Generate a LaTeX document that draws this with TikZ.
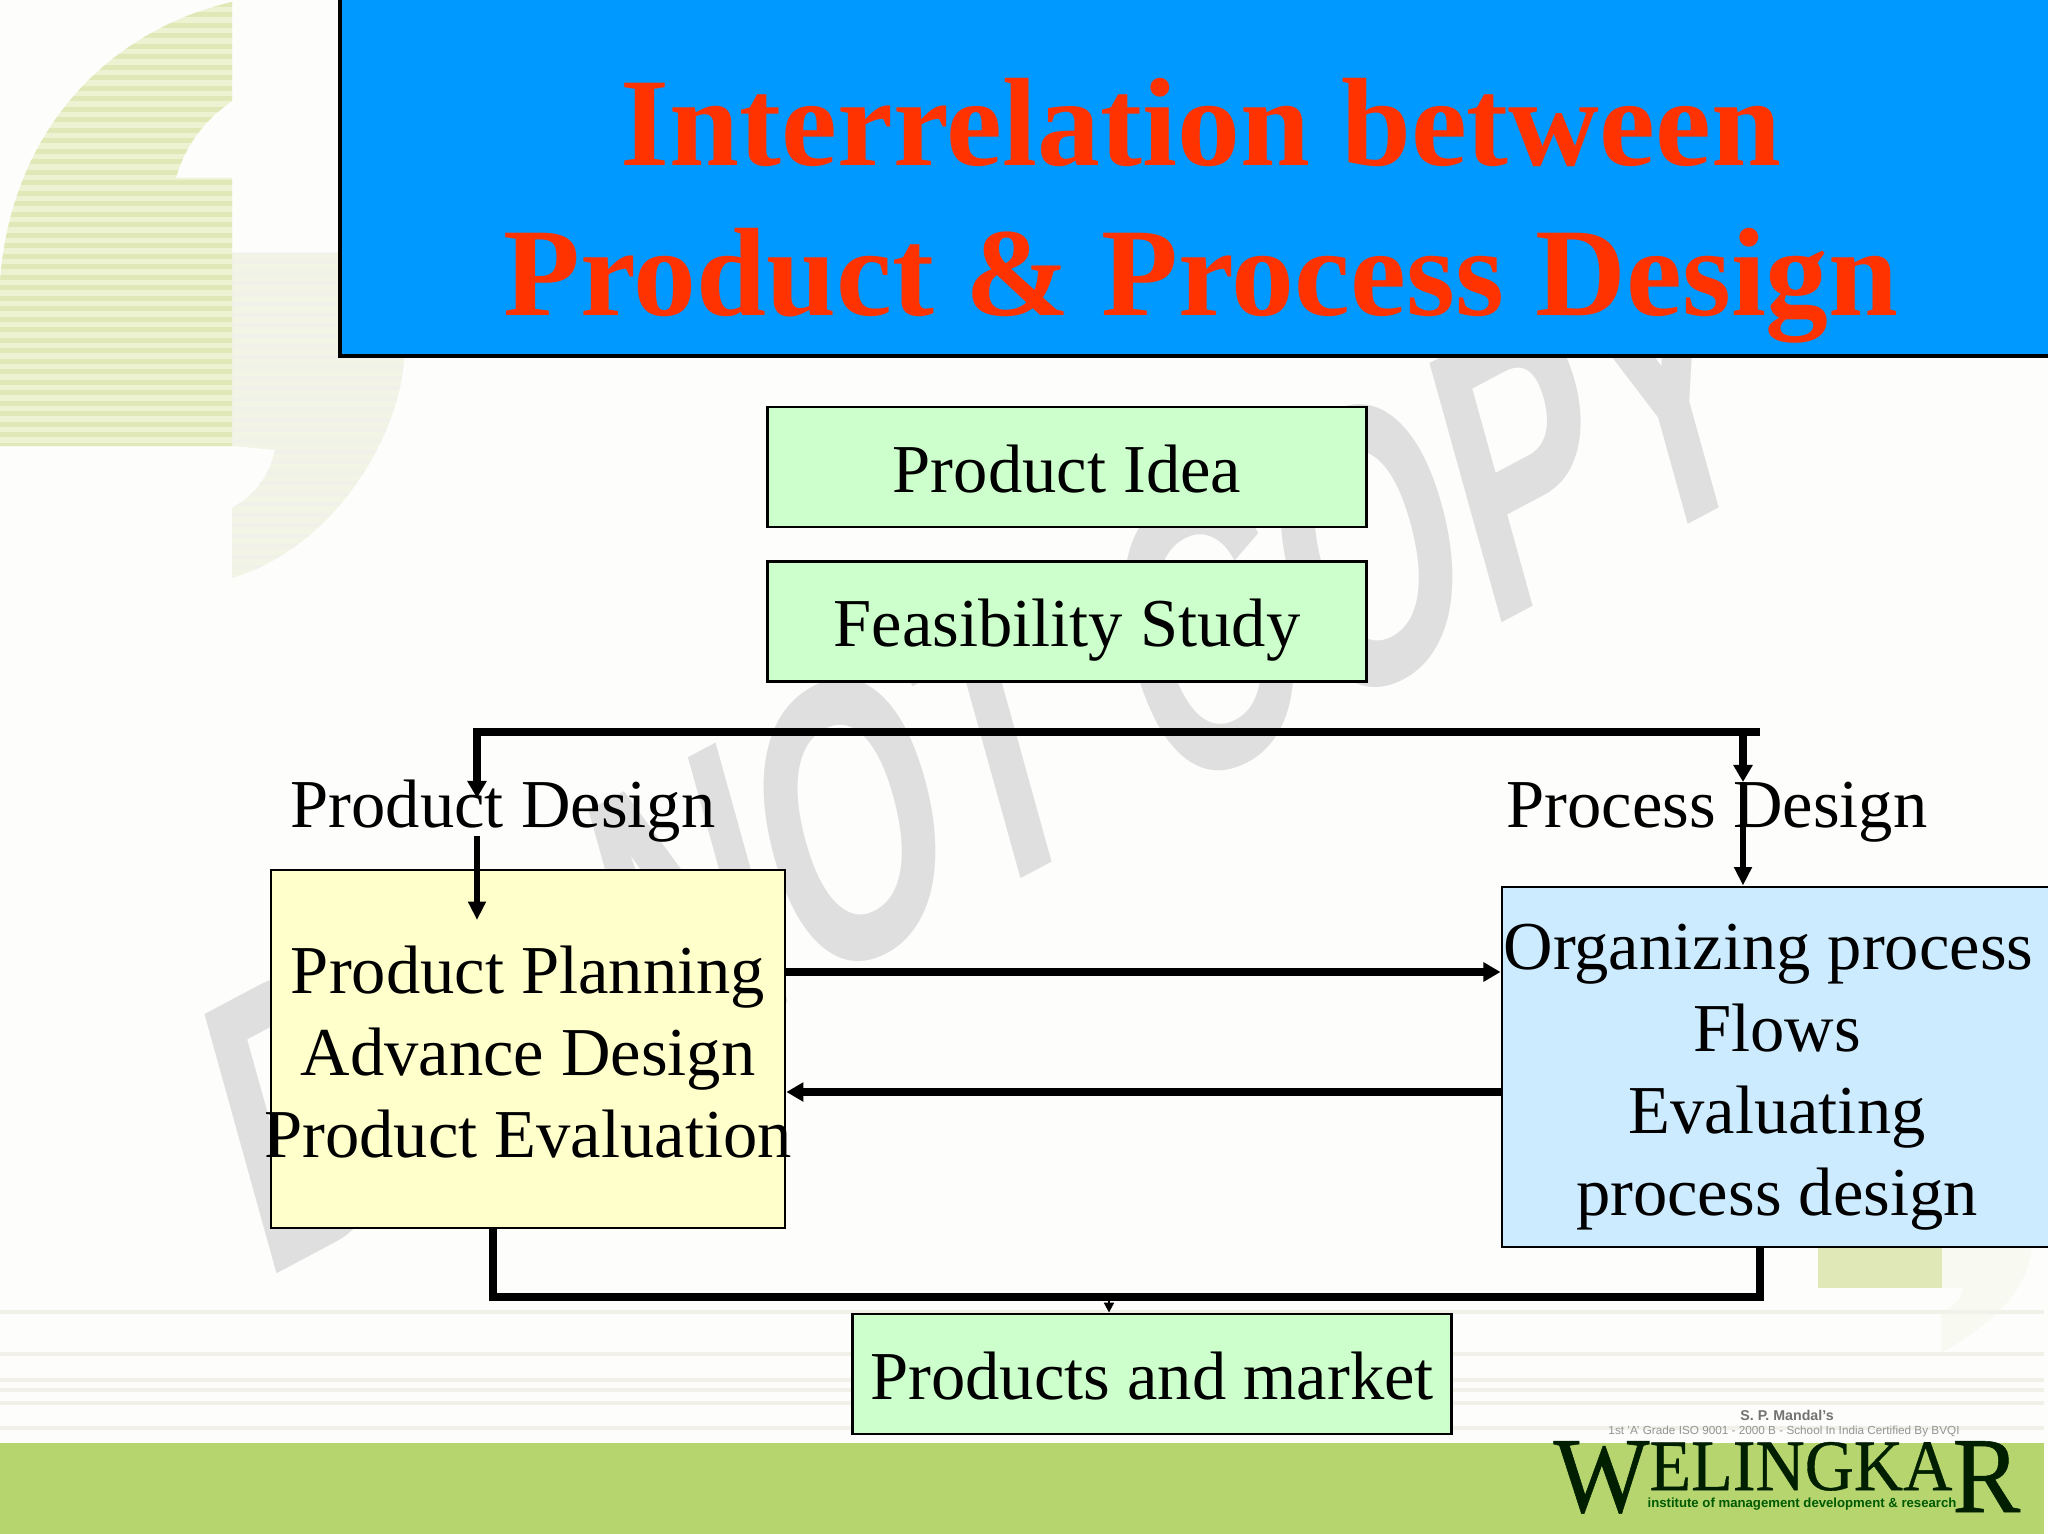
\documentclass[tikz,border=0pt]{standalone}
\usepackage{fontspec}
\setmainfont{Liberation Serif}
\setsansfont{Liberation Sans}
\newfontfamily\logofont[FakeBold=0.5]{Liberation Serif}
\usepackage{xcolor}
\usetikzlibrary{arrows.meta}
\definecolor{pagewhite}{HTML}{FDFDFC}
\definecolor{barblue}{HTML}{0099FF}
\definecolor{titlered}{HTML}{FF3300}
\definecolor{boxgreen}{HTML}{CCFFCC}
\definecolor{boxyellow}{HTML}{FFFFCC}
\definecolor{boxblue}{HTML}{CCEBFF}
\definecolor{bandgreen}{HTML}{B6D56F}
\definecolor{stampgrey}{HTML}{DFDFDF}
\definecolor{quotedark}{HTML}{DFE8B6}
\definecolor{quotemid}{HTML}{EDF2D2}
\definecolor{quotepale}{HTML}{F2F5E6}
\definecolor{quotefaint}{HTML}{F8F9F1}
\definecolor{rulepale}{HTML}{F1F1EA}
\tikzstyle{bodytext}  = [font=\fontsize{24.1}{28.8}\selectfont, align=center, inner sep=0pt]
\tikzstyle{stepbox}   = [draw=black, line width=1pt, inner sep=0pt, text height=19.6pt, text depth=2pt, font=\fontsize{24.1}{28.8}\selectfont]
\tikzstyle{greenbox}  = [stepbox, fill=boxgreen, minimum height=42.2pt, minimum width=210.8pt]
\tikzstyle{heavy}     = [line width=2.8pt]
\tikzstyle{heavyflow} = [heavy, -{Stealth[length=6pt,width=6.5pt,inset=0pt]}]
\tikzstyle{slimflow}  = [line width=2pt, -{Stealth[length=6.5pt,width=6pt,inset=0pt]}]
\begin{document}
\begin{tikzpicture}[x=0.35156pt,y=-0.35156pt]
    \useasboundingbox (0,0) rectangle (2048,1534);
    \fill[pagewhite] (0,0) rectangle (2048,1534);

    \begin{scope}
        \clip (232,253) -- (404,253) -- (404,360) .. controls (400,430) and (340,545) .. (232,578) -- (232,508) .. controls (255,495) and (270,475) .. (275,450) -- (232,446) -- cycle;
        \fill[quotepale] (200,240) rectangle (420,590);
        \foreach \ypos in {250,260.5,...,590} \fill[rulepale] (200,\ypos) rectangle (420,\ypos+4);
    \end{scope}
    \begin{scope}
        \clip (232,2) .. controls (110,30) and (10,130) .. (0,283) -- (0,446) -- (232,446) -- (232,178) -- (176,178) .. controls (185,145) and (205,120) .. (232,101) -- cycle;
        \fill[quotemid] (0,0) rectangle (240,450);
        \foreach \ypos in {2,12.5,...,450} \fill[quotedark] (0,\ypos) rectangle (240,\ypos+5);
    \end{scope}
    \fill[quotedark] (1818,1240) rectangle (1942,1288);
    \fill[quotefaint] (1942,1240) -- (2032,1240) .. controls (2032,1290) and (1990,1325) .. (1941,1353) -- (1941,1313) .. controls (1955,1305) and (1962,1298) .. (1963,1288) -- (1942,1288) -- cycle;

    \foreach \ypos in {1312,1354,1380,1390,1403,1428} \fill[rulepale] (0,\ypos-2) rectangle (2044,\ypos+2);
    \fill[bandgreen] (0,1443) rectangle (2044,1534);

    \node[cm={.76,.404,-.368,1.325,(262,1282)}, transform shape, anchor=base west, inner sep=0pt, text=stampgrey, font=\fontsize{100}{100}\selectfont\sffamily\bfseries] (stamp) at (0,0) {DO NOT COPY};

    \node[draw=black, line width=1.1pt, fill=barblue, minimum width=604.7pt, minimum height=127.3pt] (titlebar) at (1200,175) {};
    \node[font=\fontsize{44.2}{52.7}\selectfont\bfseries, text=titlered, align=center, inner sep=0pt] (titletext) at (1201,211) {Interrelation between\\Product \& Process Design};

    \node[greenbox] (idea) at (1067,467) {Product Idea};
    \node[greenbox] (feasibility) at (1067,621.5) {Feasibility Study};
    \node[greenbox] (market) at (1152,1374) {Products and market};

    \node[stepbox, fill=boxyellow, minimum width=180.7pt, minimum height=125.9pt] (planning) at (528,1049) {};
    \node[stepbox, fill=boxblue, minimum width=192.7pt, minimum height=126.6pt] (organizing) at (1776,1067) {};

    \node[bodytext] (planningtext) at (528,1052) {Product Planning\\Advance Design\\Product Evaluation};
    \node[bodytext] (organizingtext) at (1777,1077) {Organizing process\hspace*{6pt}\\Flows\\Evaluating\\process design};

    \node[bodytext, anchor=base] (productlabel) at (503,827) {Product Design};
    \node[bodytext, anchor=base] (processlabel) at (1717,827) {Process Design};

    \coordinate (splitleft) at (473,732);
    \coordinate (splitright) at (1760,732);
    \coordinate (leftdrop) at (477,732);
    \coordinate (lefttip) at (477,798);
    \coordinate (leftresume) at (477,836);
    \coordinate (planningtip) at (477,920);
    \coordinate (rightdrop) at (1743,732);
    \coordinate (rightmid) at (1743,782);
    \coordinate (forward) at (0,972);
    \coordinate (backward) at (0,1092);
    \coordinate (mergeleft) at (493,1297);
    \coordinate (mergeright) at (1760,1297);
    \coordinate (mergedrop) at (1109,1297);

    \draw[heavy] (splitleft) -- (splitright);
    \draw[heavyflow] (leftdrop) -- (lefttip);
    \draw[slimflow] (leftresume) -- (planningtip);
    \draw[heavyflow] (rightdrop) -- (rightmid);
    \draw[slimflow] (rightmid) -- (rightmid |- organizing.north);

    \draw[heavyflow] (forward -| planning.east) -- (forward -| organizing.west);
    \draw[heavyflow] (backward -| organizing.west) -- (backward -| planning.east);

    \draw[heavy] (mergeleft |- planning.south) -- (mergeleft) -- (mergeright) -- (mergeright |- organizing.south);
    \draw[line width=.7pt, -{Stealth[length=3.5pt,width=3.5pt,inset=0pt]}] (mergedrop) -- (mergedrop |- market.north);

    \node[anchor=base, inner sep=0pt, text=black!55, font=\fontsize{5}{6}\selectfont\sffamily\bfseries] (trustname) at (1787,1420) {S. P. Mandal's};
    \node[anchor=base, inner sep=0pt, text=black!42, font=\fontsize{4.13}{5}\selectfont\sffamily] (gradeline) at (1784,1434) {1st 'A' Grade ISO 9001 - 2000 B - School In India Certified By BVQI};
    \node[anchor=base west, xscale=.94, transform shape, inner sep=0pt, text=black!88!green, font=\fontsize{38}{38}\selectfont\logofont] (logo) at (1553,1512) {W\raisebox{7.7pt}{\fontsize{25.5}{26}\selectfont ELINGKA}R};
    \node[anchor=base, inner sep=0pt, text=black!65!green, font=\fontsize{4.63}{5.5}\selectfont\sffamily\bfseries] (logoline) at (1802,1507) {institute of management development \& research};
\end{tikzpicture}
\end{document}
